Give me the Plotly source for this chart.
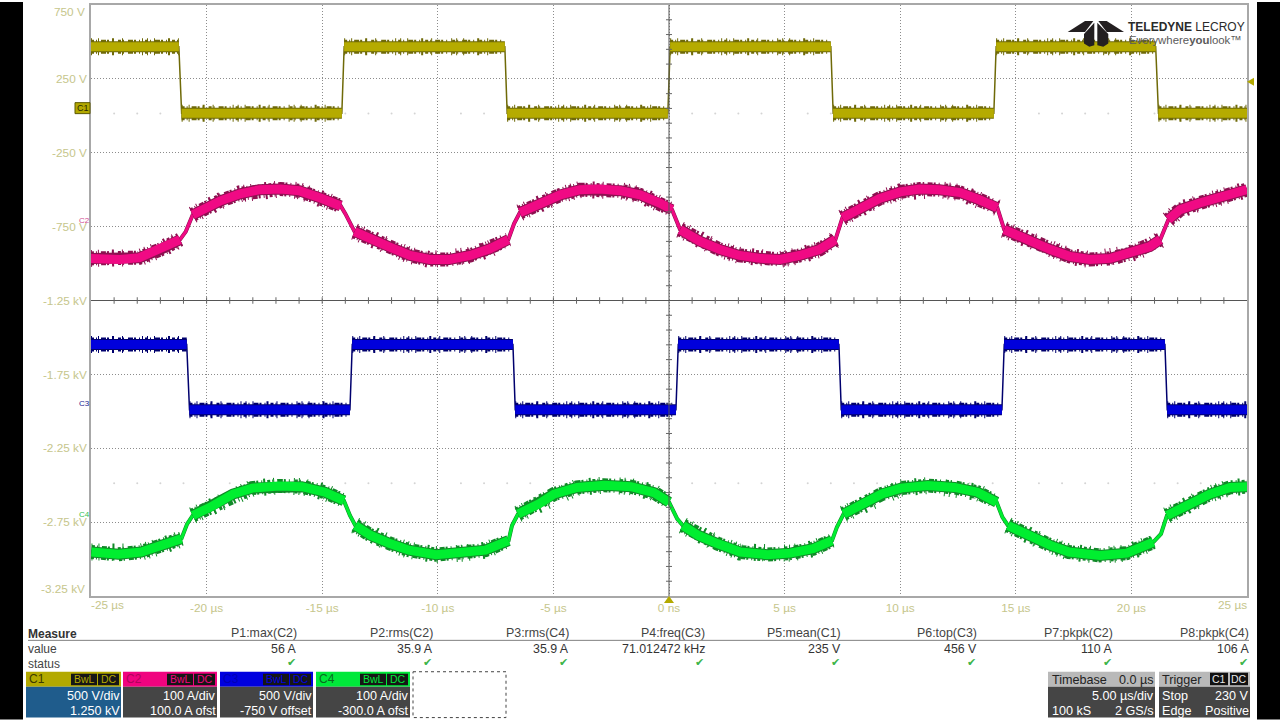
import plotly.graph_objects as go

# screen geometry of the scope grid
PLOT_L, PLOT_R, PLOT_T, PLOT_B = 91, 1247, 3, 596
FONT = "Liberation Sans, Arial, sans-serif"

# tick labels
X_TICKS = [-20, -15, -10, -5, 0, 5, 10, 15, 20]
X_LABELS = ["-20 µs", "-15 µs", "-10 µs", "-5 µs", "0 ns", "5 µs", "10 µs", "15 µs", "20 µs"]
Y_TICKS = [250, -250, -750, -1250, -1750, -2250, -2750]
Y_LABELS = ["250 V", "-250 V", "-750 V", "-1.25 kV", "-1.75 kV", "-2.25 kV", "-2.75 kV"]

# C1, volts on the screen scale
C1_T = [-25, -21.2, -21.08, -14.15, -14.05, -7.1, -7.0, -0.05, 0.05, 7.0, 7.1, 14.05, 14.15, 21.05, 21.17, 25]
C1_V = [467, 467, 18, 18, 467, 467, 18, 18, 467, 467, 18, 18, 467, 467, 18, 18]

# C2, amps, 100 A/div, zero at -750 on the screen scale
C2_T = [-25, -23.75, -22.9, -22.0, -21.15, -20.9, -20.6, -20.3, -19.4, -18.55, -17.7, -16.8, -16.0, -15.1,
        -14.2, -14.0, -13.6, -12.9, -12.05, -11.2, -10.35, -9.5, -8.6, -7.75, -6.95, -6.7, -6.45, -5.6,
        -4.7, -3.85, -3.0, -2.1, -1.25, -0.4, 0.13, 0.48, 1.35, 2.2, 3.05, 3.95, 4.8, 5.65, 6.5, 7.2,
        7.5, 8.25, 9.1, 10.0, 10.85, 11.7, 12.6, 13.45, 14.2, 14.5, 15.6, 16.5, 17.35, 18.2, 19.1, 19.95,
        20.8, 21.25, 21.6, 22.1, 22.95, 23.85, 25]
C2_A = [-43, -44.5, -42, -31, -17.5, -6.7, 16, 21.6, 35, 44.5, 50, 51, 48.6, 39,
        28, 17.5, -6.7, -17.5, -28, -39, -44.5, -44.5, -39, -30, -17.5, 4, 19, 32,
        43, 50, 51, 48.6, 43, 32, 23, -4, -20, -31, -39, -43, -44.5, -39, -31, -17.5,
        12, 25.6, 38, 47, 51, 50, 46, 36, 25.6, -4, -20, -31, -40.5, -44.5, -43, -36.4,
        -27, -17.5, 9.4, 23, 32, 40.5, 50]

# C3, volts, zero at -2000 on the screen scale
C3_T = [-25, -20.86, -20.74, -13.8, -13.7, -6.75, -6.65, 0.3, 0.4, 7.35, 7.45, 14.4, 14.5, 21.45, 21.55, 25]
C3_V = [452, 452, 11, 11, 452, 452, 11, 11, 452, 452, 11, 11, 452, 452, 11, 11]

# C4, amps, 100 A/div, zero at -2750 on the screen scale
C4_T = [-24.98, -23.82, -22.83, -22.0, -21.09, -20.84, -20.6, -19.85, -18.86, -18.03, -16.87, -15.88, -14.88,
        -14.06, -13.8, -13.57, -12.9, -12.07, -11.25, -10.08, -8.92, -7.94, -6.94, -6.79, -6.53, -5.62, -4.97,
        -3.98, -2.81, -1.64, -0.65, 0, 0.355, 0.6, 1.27, 2.09, 3.08, 4.24, 5.24, 6.23, 7.05, 7.26, 7.55, 8.38,
        9.2, 10.03, 11.2, 12.35, 13.34, 14.17, 14.42, 14.66, 15.49, 16.5, 17.3, 18.64, 19.8, 20.95, 21.28,
        21.54, 22.45, 23.4, 24.27, 25]
C4_A = [-40.5, -43.6, -40.5, -32.9, -22.5, -2.3, 9, 20, 38, 46, 49, 48, 40.5,
        29, 9, -4.5, -18, -29, -38, -44, -42, -38, -25, -4.5, 11, 24.75, 38,
        47, 50, 48, 40, 27, 4.5, -4.5, -18, -29, -40.5, -44, -42, -36, -25, -7, 11, 24.75,
        38, 46, 49.5, 47, 40.5, 27, 6.75, -4.5, -18, -31.5, -40.5, -45, -42, -27, -16,
        9, 24.75, 38, 47, 48]

# measurement table
MEAS_NAMES = ["P1:max(C2)", "P2:rms(C2)", "P3:rms(C4)", "P4:freq(C3)", "P5:mean(C1)", "P6:top(C3)", "P7:pkpk(C2)", "P8:pkpk(C4)"]
MEAS_VALUES = ["56 A", "35.9 A", "35.9 A", "71.012472 kHz", "235 V", "456 V", "110 A", "106 A"]
MEAS_RIGHT = [297, 433, 569, 705, 841, 977, 1113, 1249]

# channel boxes
CH_NAMES = ["C1", "C2", "C3", "C4"]
CH_SCALE = ["500 V/div", "100 A/div", "500 V/div", "100 A/div"]
CH_OFFSET = ["1.250 kV", "100.0 A ofst", "-750 V offset", "-300.0 A ofst"]
CH_LEFT = [26, 123, 220, 316]
CH_RIGHT = [121, 217, 313, 410]
CH_HEAD = ["#b3a900", "#f0047f", "#0000e0", "#00e83a"]
CH_TEXT = ["#3d3a00", "#b0035c", "#0000b4", "#0a6a20"]
CH_BODY = ["#1f5c8c", "#454545", "#454545", "#454545"]


def px(x):
    return (x - PLOT_L) / (PLOT_R - PLOT_L)


def py(y):
    return (PLOT_B - y) / (PLOT_B - PLOT_T)


def plateaus(t, v):
    # leaves the steep edges out, they are drawn as a thin line
    xs, ys = [], []
    for i in range(len(t) - 1):
        if abs(v[i + 1] - v[i]) / (t[i + 1] - t[i]) > 150:
            continue
        if xs and xs[-1] != t[i]:
            xs.append(None)
            ys.append(None)
        if not xs or xs[-1] != t[i]:
            xs.append(t[i])
            ys.append(v[i])
        xs.append(t[i + 1])
        ys.append(v[i + 1])
    return xs, ys


def add_channel(fig, t, v, bright, dark, thin, edge):
    xs, ys = plateaus(t, v)
    # the edge trace goes under the band, the noise is only a dash pattern on a wider line
    fig.add_trace(go.Scatter(x=t, y=v, mode="lines", hoverinfo="skip",
                             line=dict(color=dark, width=thin + 1)))
    if edge:
        fig.add_trace(go.Scatter(x=t, y=v, mode="lines", hoverinfo="skip",
                                 line=dict(color=edge, width=thin)))
    for width, color, dash in [(17, dark, "1px,6px,1px,13px,2px,8px,1px,19px,1px,4px"),
                               (14, dark, "3px,2px,1px,4px,5px,1px,2px,3px,1px,5px"),
                               (11, dark, "solid"),
                               (9, bright, "solid")]:
        fig.add_trace(go.Scatter(x=xs, y=ys, mode="lines", hoverinfo="skip",
                                 line=dict(color=color, width=width, dash=dash)))


def text(fig, x, y, s, size=12.4, color="#333333", anchor="right", font=FONT):
    fig.add_annotation(x=px(x), y=py(y), xref="paper", yref="paper", text=s, showarrow=False,
                       xanchor=anchor, yanchor="middle", borderpad=0, borderwidth=0,
                       font=dict(family=font, size=size, color=color))


def box(fig, x0, y0, x1, y1, fill, line=None, dash="solid"):
    fig.add_shape(type="rect", xref="paper", yref="paper", x0=px(x0), x1=px(x1), y0=py(y0), y1=py(y1),
                  fillcolor=fill, line=dict(color=line or fill, width=1 if line else 0, dash=dash))


def poly(fig, points, fill):
    path = "M " + " L ".join(f"{px(x)} {py(y)}" for x, y in points) + " Z"
    fig.add_shape(type="path", xref="paper", yref="paper", path=path, fillcolor=fill, line=dict(width=0))


fig = go.Figure()

# faint marker rows
for row in [15, -2487]:
    dots = [s for s in range(-24, 25) if s % 5 != 0]
    fig.add_trace(go.Scatter(x=dots, y=[row] * len(dots), mode="markers", hoverinfo="skip",
                             marker=dict(color="#d4d4d4", size=2)))

add_channel(fig, C1_T, C1_V, "#b5ab00", "#6f6a08", 0.5, None)
add_channel(fig, C2_T, [a * 5 - 750 for a in C2_A], "#f00a84", "#8c1150", 3, "#f00a84")
add_channel(fig, C3_T, [v - 2000 for v in C3_V], "#0000dc", "#00006e", 0.5, None)
add_channel(fig, C4_T, [a * 5 - 2750 for a in C4_A], "#00ee30", "#118a28", 3, "#00ee30")

fig.update_layout(
    width=1280, height=720, autosize=False,
    margin=dict(l=PLOT_L, r=1280 - PLOT_R, t=PLOT_T, b=720 - PLOT_B),
    paper_bgcolor="white", plot_bgcolor="white", showlegend=False,
    font=dict(family=FONT, size=11.8, color="#c6c68c"),
    xaxis=dict(range=[-25, 25], tickvals=X_TICKS, ticktext=X_LABELS, showgrid=True, gridcolor="#8c8c8c",
               griddash="1px,2px", gridwidth=1, zeroline=False, showline=True, linecolor="#a8a8a8", linewidth=1.5,
               mirror=True, ticks="", tickfont=dict(size=11.8, color="#c6c68c")),
    yaxis=dict(range=[-3250, 750], tickvals=Y_TICKS, ticktext=Y_LABELS, showgrid=True, gridcolor="#8c8c8c",
               griddash="1px,2px", gridwidth=1, zeroline=False, showline=True, linecolor="#a8a8a8", linewidth=1.5,
               mirror=True, ticks="", tickfont=dict(size=11.8, color="#c6c68c")),
)

# black pillars either side of the video frame
box(fig, 0, 0, 23, 720, "black")
box(fig, 1257, 0, 1280, 720, "black")

# centre cross with its small ticks
fig.add_shape(type="line", x0=0, x1=0, y0=-3250, y1=750, line=dict(color="#555555", width=1))
fig.add_shape(type="line", x0=-25, x1=25, y0=-1250, y1=-1250, line=dict(color="#555555", width=1))
for s in range(-24, 25):
    if s != 0:
        fig.add_shape(type="line", x0=s, x1=s, y0=-1272, y1=-1228, line=dict(color="#666666", width=1))
for v in range(-3150, 750, 100):
    if v != -1250:
        fig.add_shape(type="line", x0=-0.13, x1=0.13, y0=v, y1=v, line=dict(color="#666666", width=1))

# end labels sit inside the grid limits
text(fig, 85, 10, "750 V", 11.8, "#c6c68c")
text(fig, 85, 589, "-3.25 kV", 11.8, "#c6c68c")
text(fig, 91, 605, "-25 µs", 11.8, "#c6c68c", "left")
text(fig, 1247, 605, "25 µs", 11.8, "#c6c68c")

# channel flags and trigger arrows
box(fig, 75, 101, 90, 112, "#b3a900", "#5c5800")
text(fig, 82.5, 106.5, "C1", 9, "#2a2800", "center")
text(fig, 90, 219, "C2", 8, "#d04a90")
text(fig, 90, 403, "C3", 8, "#202090")
text(fig, 90, 514, "C4", 8, "#30c050")
poly(fig, [(664, 603), (669, 596), (674, 603)], "#b3a900")
poly(fig, [(1247, 80), (1254, 76), (1254, 84)], "#b3a900")

# logo
poly(fig, [(1067.7, 30), (1085, 19), (1093.3, 19), (1085, 30)], "#231f20")
poly(fig, [(1124, 30), (1106.7, 19), (1098.3, 19), (1106.7, 30)], "#231f20")
poly(fig, [(1084, 32), (1094.3, 20.7), (1094.3, 43.3), (1089.3, 45), (1084, 41.7)], "#231f20")
poly(fig, [(1097.3, 20.7), (1108.3, 32), (1108.3, 41.7), (1103.3, 45), (1097.3, 43.3)], "#231f20")
text(fig, 1128, 25, "<b>TELEDYNE</b> LECROY", 12, "#2a2a2a", "left")
text(fig, 1129, 38, "Everywhere<b>you</b>look™", 11.4, "#5a5a5a", "left")

# measurement table
text(fig, 28, 634, "<b>Measure</b>", 12, "#333333", "left")
text(fig, 28, 649.5, "value", 12, "#444444", "left")
text(fig, 28, 664.5, "status", 12, "#444444", "left")
fig.add_shape(type="line", xref="paper", yref="paper", x0=px(28), x1=px(1249), y0=py(640.5), y1=py(640.5),
              line=dict(color="#808080", width=1))
for name, value, right in zip(MEAS_NAMES, MEAS_VALUES, MEAS_RIGHT):
    text(fig, right, 633.5, name, 12.4, "#444444")
    text(fig, right, 649.5, value, 12.4, "#333333")
    text(fig, right - 1, 663, "✔", 11, "#3cb54a", font="DejaVu Sans")

# channel boxes
for i, name in enumerate(CH_NAMES):
    left, right = CH_LEFT[i], CH_RIGHT[i]
    box(fig, left, 672, right, 687, CH_HEAD[i])
    box(fig, left, 687, right, 718, CH_BODY[i])
    text(fig, left + 3, 679.5, name, 12, CH_TEXT[i], "left")
    box(fig, right - 50, 674, right - 24, 685.5, "#161616")
    box(fig, right - 23, 674, right - 2, 685.5, "#161616")
    text(fig, right - 37, 679.5, "BwL", 10.5, CH_HEAD[i], "center")
    text(fig, right - 12.5, 679.5, "DC", 10.5, CH_HEAD[i], "center")
    text(fig, right - 1, 696.5, CH_SCALE[i], 12.6, "white")
    text(fig, right - 1, 711, CH_OFFSET[i], 12.6, "white")
box(fig, 413, 672, 506, 718, "white", "#444444", "3px,3px")

# timebase and trigger boxes
box(fig, 1048, 672, 1155, 687, "#b9b9b9")
box(fig, 1048, 687, 1155, 718, "#454545")
text(fig, 1052, 680, "Timebase", 12.6, "#222222", "left")
text(fig, 1154, 680, "0.0 µs", 12.6, "#222222")
text(fig, 1154, 696.5, "5.00 µs/div", 12.6, "white")
text(fig, 1052, 711, "100 kS", 12.6, "white", "left")
text(fig, 1154, 711, "2 GS/s", 12.6, "white")
box(fig, 1159, 672, 1250, 687, "#b9b9b9")
box(fig, 1159, 687, 1250, 718, "#454545")
text(fig, 1162, 680, "Trigger", 12.6, "#222222", "left")
box(fig, 1210, 673, 1228, 685.5, "#111111")
box(fig, 1230, 673, 1248, 685.5, "#111111")
text(fig, 1219, 679.5, "C1", 10.5, "#e8e8e8", "center")
text(fig, 1239, 679.5, "DC", 10.5, "#e8e8e8", "center")
text(fig, 1162, 696.5, "Stop", 12.6, "white", "left")
text(fig, 1249, 696.5, "230 V", 12.6, "white")
text(fig, 1162, 711, "Edge", 12.6, "white", "left")
text(fig, 1249, 711, "Positive", 12.6, "white")

fig.write_html("out.html", config={"displayModeBar": False}, post_script="document.body.style.margin='0';")
